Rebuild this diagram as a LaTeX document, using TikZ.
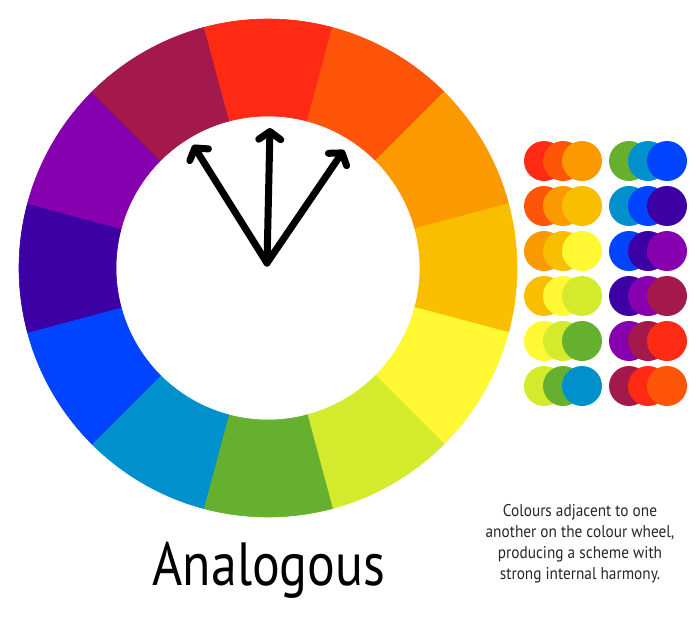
\documentclass[tikz,border=0pt]{standalone}
\usepackage{fontspec}
\setmainfont{PT Sans}
\newfontfamily\narrowfont[FakeStretch=0.85]{PT Sans}
\newfontfamily\notefont[FakeStretch=0.9]{PT Sans}
\usetikzlibrary{arrows.meta}
\definecolor{wheel0}{HTML}{FF2A14}
\definecolor{wheel1}{HTML}{FF5508}
\definecolor{wheel2}{HTML}{FA9A00}
\definecolor{wheel3}{HTML}{F9BE00}
\definecolor{wheel4}{HTML}{FFF832}
\definecolor{wheel5}{HTML}{D4EA2D}
\definecolor{wheel6}{HTML}{66B030}
\definecolor{wheel7}{HTML}{0090CC}
\definecolor{wheel8}{HTML}{0044FF}
\definecolor{wheel9}{HTML}{3D00A5}
\definecolor{wheel10}{HTML}{8600B0}
\definecolor{wheel11}{HTML}{A3194B}

\begin{document}
\begin{tikzpicture}[x=1pt,y=-1pt,
    pointer/.style={line width=7pt,line cap=round,line join=round,
      -{Straight Barb[length=8pt,width=22pt,round]}}]
  \useasboundingbox (0,0) rectangle (696,629);

  % colour wheel
  \begin{scope}[shift={(268,268)}]
    \foreach \k in {0,...,11} {
      \pgfmathtruncatemacro{\a}{-105+30*\k}
      \pgfmathtruncatemacro{\b}{-75+30*\k}
      \fill[wheel\k,draw=wheel\k,line width=0.6pt] (\a:249) arc[start angle=\a,end angle=\b,radius=249]
        -- (\b:152) arc[start angle=\b,end angle=\a,radius=152] -- cycle;
    }
  \end{scope}

  % arrows
  \coordinate (hub) at (267,263);
  \coordinate (tipleft) at (193,145);
  \coordinate (tipmid) at (270,128);
  \coordinate (tipright) at (344,150);
  \draw[pointer] (hub) -- (tipleft);
  \draw[pointer] (hub) -- (tipmid);
  \draw[pointer] (hub) -- (tipright);

  % swatches
  \foreach \k in {0,...,11} {
    \pgfmathtruncatemacro{\col}{int(\k/6)}
    \pgfmathtruncatemacro{\row}{mod(\k,6)}
    \foreach \j in {0,1,2} {
      \pgfmathtruncatemacro{\c}{mod(\k+\j,12)}
      \fill[wheel\c] (544+85*\col+19*\j,161+45*\row) circle[radius=20];
    }
  }

  \node[font=\narrowfont\fontsize{61}{61}\selectfont] (title) at (269,570) {Analogous};
  \node[align=center,text=black!85,font=\notefont\fontsize{17}{21}\selectfont] (caption) at (580,544)
    {Colours adjacent to one\\another on the colour wheel,\\producing a scheme with\\strong internal harmony.};
\end{tikzpicture}
\end{document}
